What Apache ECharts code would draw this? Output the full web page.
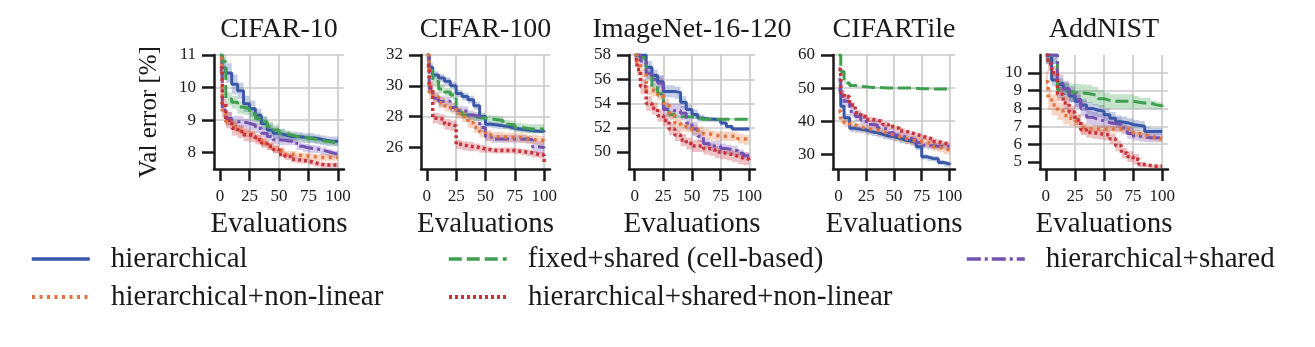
<!DOCTYPE html>
<html><head><meta charset="utf-8">
<script src="https://cdn.jsdelivr.net/npm/echarts@6/dist/echarts.min.js"></script>
<style>html,body{margin:0;padding:0;background:#fff}#c{width:1315px;height:347px}</style>
</head><body><div id="c"></div>
<script>
// ---------- DATA ----------
const xs = [0,2,5,10,15,20,25,30,35,40,45,50,55,60,65,70,75,80,85,90,95,100];
const xTicks = [0,25,50,75,100];
const titles = ['CIFAR-10','CIFAR-100','ImageNet-16-120','CIFARTile','AddNIST'];
const seriesNames = ['hierarchical','fixed+shared (cell-based)','hierarchical+shared','hierarchical+non-linear','hierarchical+shared+non-linear'];

const c10_ticks = [8,9,10,11];
const c10_hier = [11.0,10.6,10.45,10.1,9.9,9.5,9.35,9.15,8.9,8.7,8.6,8.55,8.5,8.5,8.48,8.45,8.45,8.42,8.38,8.35,8.35,8.33];
const c10_hier_sd = [0.3,0.3,0.3,0.3,0.25,0.25,0.25,0.2,0.2,0.2,0.18,0.18,0.15,0.15,0.15,0.15,0.15,0.15,0.15,0.15,0.15,0.15];
const c10_fixed = [11.0,10.8,9.65,9.55,9.4,9.35,9.2,9.05,8.95,8.8,8.7,8.6,8.55,8.5,8.48,8.45,8.42,8.4,8.35,8.33,8.3,8.3];
const c10_fixed_sd = [0.2,0.2,0.2,0.2,0.2,0.2,0.2,0.2,0.18,0.15,0.15,0.12,0.12,0.1,0.1,0.1,0.1,0.1,0.08,0.08,0.08,0.08];
const c10_hs = [10.5,9.3,9.05,8.95,8.95,8.9,8.85,8.75,8.6,8.5,8.4,8.38,8.35,8.35,8.2,8.15,8.12,8.1,8.05,8.0,7.95,7.9];
const c10_hs_sd = [0.2,0.2,0.2,0.18,0.18,0.15,0.15,0.15,0.15,0.15,0.15,0.15,0.12,0.12,0.12,0.12,0.12,0.12,0.12,0.12,0.12,0.12];
const c10_hnl = [10.9,9.2,8.95,8.8,8.7,8.6,8.55,8.45,8.3,8.2,8.1,8.05,7.95,7.95,7.9,7.9,7.88,7.85,7.85,7.85,7.85,7.85];
const c10_hnl_sd = [0.15,0.15,0.12,0.12,0.12,0.12,0.12,0.12,0.12,0.12,0.12,0.12,0.1,0.1,0.1,0.1,0.1,0.1,0.1,0.1,0.1,0.1];
const c10_hsnl = [10.6,9.5,9.0,8.75,8.65,8.55,8.5,8.4,8.3,8.2,8.1,7.95,7.88,7.8,7.75,7.75,7.7,7.65,7.62,7.62,7.62,7.62];
const c10_hsnl_sd = [0.25,0.25,0.25,0.22,0.2,0.2,0.18,0.15,0.15,0.12,0.12,0.1,0.1,0.1,0.08,0.08,0.08,0.08,0.08,0.08,0.08,0.08];

const c100_ticks = [26,28,30,32];
const c100_hier = [32,31.2,30.7,30.5,30.3,30.0,29.5,29.3,29.1,28.7,28.0,27.5,27.45,27.4,27.35,27.25,27.2,27.15,27.1,27.05,27.05,27.0];
const c100_hier_sd = [0.3,0.3,0.25,0.25,0.25,0.25,0.25,0.25,0.25,0.25,0.25,0.2,0.2,0.2,0.15,0.15,0.15,0.15,0.15,0.12,0.12,0.12];
const c100_fixed = [32,31.0,30.3,29.8,29.6,29.4,28.3,28.1,28.0,27.95,27.9,27.85,27.8,27.75,27.5,27.45,27.3,27.25,27.2,27.2,27.2,27.2];
const c100_fixed_sd = [0.3,0.3,0.3,0.3,0.25,0.25,0.25,0.25,0.25,0.25,0.25,0.25,0.25,0.25,0.3,0.3,0.3,0.3,0.3,0.3,0.3,0.3];
const c100_hs = [32,29.8,29.2,29.0,29.0,28.6,28.4,28.35,28.1,28.0,27.3,26.7,26.55,26.55,26.55,26.55,26.55,26.55,26.5,26.05,26.0,25.95];
const c100_hs_sd = [0.4,0.4,0.35,0.35,0.3,0.3,0.3,0.3,0.3,0.3,0.3,0.3,0.25,0.25,0.25,0.25,0.25,0.25,0.25,0.4,0.4,0.4];
const c100_hnl = [32,29.5,29.3,28.9,28.7,28.55,28.2,28.0,27.6,27.3,27.0,26.8,26.7,26.7,26.65,26.65,26.65,26.6,26.5,26.5,26.45,26.4];
const c100_hnl_sd = [0.4,0.4,0.35,0.35,0.35,0.35,0.35,0.35,0.35,0.35,0.35,0.35,0.3,0.3,0.3,0.3,0.3,0.3,0.3,0.3,0.3,0.3];
const c100_hsnl = [31.3,29.9,27.9,27.8,27.5,27.4,26.2,26.1,26.05,26.0,25.9,25.85,25.8,25.8,25.8,25.8,25.75,25.7,25.65,25.55,25.5,24.9];
const c100_hsnl_sd = [0.4,0.4,0.35,0.35,0.35,0.35,0.3,0.3,0.3,0.25,0.25,0.2,0.2,0.2,0.2,0.2,0.2,0.2,0.2,0.2,0.2,0.2];

const img_ticks = [50,52,54,56,58];
const img_hier = [58,58,58,57.0,56.3,55.8,55.0,55.0,54.9,54.1,53.5,53.1,52.8,52.7,52.7,52.65,52.4,52.1,51.9,51.9,51.9,51.9];
const img_hier_sd = [0.3,0.3,0.4,0.5,0.5,0.5,0.5,0.5,0.5,0.5,0.4,0.4,0.3,0.2,0.2,0.2,0.2,0.15,0.15,0.15,0.15,0.15];
const img_fixed = [58,58,57.8,56.3,55.3,54.8,53.6,53.1,52.9,52.9,52.9,52.85,52.7,52.7,52.7,52.7,52.7,52.7,52.7,52.7,52.7,52.7];
const img_fixed_sd = [0.2,0.2,0.3,0.3,0.3,0.3,0.2,0.15,0.1,0.1,0.1,0.1,0.1,0.1,0.1,0.1,0.1,0.1,0.1,0.1,0.1,0.1];
const img_hs = [58,58,57.5,56.5,56.0,55.7,53.5,53.4,53.4,53.2,52.4,51.9,51.3,50.7,50.5,50.5,50.3,50.2,50.1,49.9,49.7,49.7];
const img_hs_sd = [0.4,0.4,0.5,0.5,0.5,0.6,0.6,0.6,0.6,0.6,0.6,0.6,0.5,0.4,0.4,0.4,0.4,0.4,0.4,0.3,0.3,0.3];
const img_hnl = [58,57.4,56.5,55.1,55.0,54.7,54.0,53.0,52.4,52.1,52.0,51.8,51.7,51.5,51.4,51.3,51.3,51.3,51.3,51.1,51.0,51.0];
const img_hnl_sd = [0.3,0.3,0.4,0.4,0.4,0.4,0.4,0.4,0.4,0.4,0.4,0.4,0.4,0.4,0.4,0.4,0.4,0.4,0.4,0.4,0.4,0.4];
const img_hsnl = [57.6,56.8,55.4,54.0,53.6,53.0,52.6,51.9,51.4,51.0,50.7,50.5,50.5,50.3,50.2,50.0,49.9,49.8,49.65,49.5,49.4,49.25];
const img_hsnl_sd = [0.5,0.5,0.6,0.6,0.5,0.5,0.5,0.5,0.5,0.5,0.5,0.5,0.5,0.5,0.5,0.5,0.5,0.5,0.5,0.5,0.5,0.5];

const tile_ticks = [30,40,50,60];
const tile_hier = [49.5,44.5,41.0,37.8,37.5,37.3,36.8,36.5,36.0,35.5,35.3,34.8,34.3,34.0,33.5,32.2,29.2,28.7,28.6,27.5,27.0,26.7];
const tile_hier_sd = [1.5,1.5,1.2,1.0,1.0,1.0,1.0,1.0,1.0,1.0,1.0,1.0,1.0,1.0,1.0,1.0,0.8,0.8,0.8,0.8,0.8,0.8];
const tile_fixed = [60,55,51.5,50.8,50.5,50.4,50.2,50.2,50.1,50.0,50.0,50.0,50.0,50.0,49.9,49.8,49.8,49.7,49.7,49.7,49.7,49.7];
const tile_fixed_sd = [0.3,0.3,0.3,0.2,0.2,0.2,0.2,0.2,0.2,0.2,0.2,0.2,0.2,0.2,0.2,0.2,0.2,0.2,0.2,0.2,0.2,0.2];
const tile_hs = [52.5,47.5,46.0,42.9,41.4,40.3,39.0,38.8,38.0,37.5,36.5,35.8,35.3,34.8,34.3,33.5,32.7,32.5,32.4,32.4,32.4,32.4];
const tile_hs_sd = [2,2,1.8,1.5,1.5,1.5,1.2,1.2,1.2,1.2,1.2,1.2,1.2,1.2,1.2,1.2,1.0,1.0,1.0,1.0,1.0,1.0];
const tile_hnl = [43,40.3,39.5,38.8,38.2,37.8,37.5,37.3,36.8,36.3,35.8,35.3,34.8,34.3,34.0,33.8,33.5,33.0,32.2,31.8,31.2,31.0];
const tile_hnl_sd = [1.2,1.2,1.2,1.2,1.2,1.2,1.2,1.2,1.2,1.2,1.2,1.2,1.2,1.2,1.2,1.2,1.2,1.2,1.2,1.2,1.2,1.2];
const tile_hsnl = [55.7,48.5,47.4,44.9,42.5,41.4,40.5,40.3,39.8,39.0,38.3,37.8,37.0,36.5,36.0,35.5,35.0,34.5,33.8,33.3,33.0,33.0];
const tile_hsnl_sd = [0.8,0.8,0.8,0.8,0.8,0.8,0.8,0.8,0.8,0.8,0.8,0.8,0.8,0.8,0.8,0.8,0.8,0.8,0.8,0.8,0.8,0.8];

const add_ticks = [5,6,7,8,9,10];
const add_hier = [11,11,9.6,9.35,9.1,8.7,8.4,8.2,8.0,7.9,7.85,7.65,7.45,7.25,7.2,7.1,7.05,7.0,6.7,6.7,6.7,6.7];
const add_hier_sd = [0.4,0.4,0.35,0.35,0.35,0.35,0.35,0.35,0.35,0.35,0.35,0.35,0.35,0.35,0.35,0.35,0.3,0.3,0.25,0.2,0.2,0.2];
const add_fixed = [11,11,11,9.05,8.95,8.9,8.87,8.85,8.8,8.7,8.55,8.45,8.4,8.4,8.4,8.4,8.35,8.3,8.3,8.2,8.15,8.1];
const add_fixed_sd = [0.5,0.5,0.5,0.5,0.5,0.5,0.5,0.5,0.5,0.5,0.5,0.45,0.4,0.4,0.4,0.4,0.35,0.3,0.3,0.25,0.2,0.2];
const add_hs = [11,11,11,9.4,9.1,8.8,8.5,8.0,7.5,7.4,7.3,7.2,7.15,7.1,6.9,6.6,6.45,6.4,6.35,6.35,6.35,6.35];
const add_hs_sd = [0.5,0.5,0.5,0.5,0.45,0.45,0.45,0.45,0.4,0.4,0.4,0.4,0.4,0.4,0.35,0.3,0.25,0.25,0.25,0.25,0.25,0.25];
const add_hnl = [9.5,8.5,8.2,7.85,7.6,7.45,7.3,6.9,6.85,6.85,6.85,6.85,6.85,6.85,6.85,6.8,6.6,6.5,6.45,6.35,6.3,6.3];
const add_hnl_sd = [0.6,0.6,0.6,0.5,0.5,0.45,0.4,0.3,0.25,0.2,0.2,0.2,0.2,0.2,0.2,0.2,0.2,0.2,0.2,0.15,0.15,0.15];
const add_hsnl = [11,10.5,10.0,8.8,8.3,7.8,7.35,6.8,6.65,6.6,6.55,6.5,6.3,5.9,5.5,5.3,5.15,4.85,4.8,4.75,4.75,4.75];
const add_hsnl_sd = [0.4,0.4,0.4,0.4,0.35,0.35,0.3,0.3,0.3,0.3,0.3,0.3,0.3,0.3,0.3,0.3,0.3,0.15,0.1,0.1,0.1,0.1];

// ---------- STYLE / LAYOUT ----------
const FONT = '"Liberation Serif","Times New Roman",serif';
const TXT = '#1a1a1a';
const colors = ['#3a58a8','#3f9e50','#7351b1','#e0743f','#c7333d'];
const dashes = ['solid',[13,5],[14,4,3,4],[3,4.5],[3,3]];
const widths = [3,3,3,3.5,3.5];

const panels = [
  {ymin:7.5, ymax:11, ticks:c10_ticks, left:214, width:130,
   mean:[c10_hier,c10_fixed,c10_hs,c10_hnl,c10_hsnl], sd:[c10_hier_sd,c10_fixed_sd,c10_hs_sd,c10_hnl_sd,c10_hsnl_sd]},
  {ymin:24.6, ymax:32, ticks:c100_ticks, left:421, width:129,
   mean:[c100_hier,c100_fixed,c100_hs,c100_hnl,c100_hsnl], sd:[c100_hier_sd,c100_fixed_sd,c100_hs_sd,c100_hnl_sd,c100_hsnl_sd]},
  {ymin:48.6, ymax:58, ticks:img_ticks, left:629, width:126,
   mean:[img_hier,img_fixed,img_hs,img_hnl,img_hsnl], sd:[img_hier_sd,img_fixed_sd,img_hs_sd,img_hnl_sd,img_hsnl_sd]},
  {ymin:25.5, ymax:60, ticks:tile_ticks, left:833, width:122,
   mean:[tile_hier,tile_fixed,tile_hs,tile_hnl,tile_hsnl], sd:[tile_hier_sd,tile_fixed_sd,tile_hs_sd,tile_hnl_sd,tile_hsnl_sd]},
  {ymin:4.6, ymax:11, ticks:add_ticks, left:1040, width:128,
   mean:[add_hier,add_fixed,add_hs,add_hnl,add_hsnl], sd:[add_hier_sd,add_fixed_sd,add_hs_sd,add_hnl_sd,add_hsnl_sd]}
];
const TOP = 55, H = 114;

function bandRenderer(m, s, color) {
  return function (params, api) {
    if (params.dataIndex !== 0) return null;
    const top = [], bot = [];
    for (let j = 0; j < xs.length; j++) {
      const x0 = xs[j], x1 = j < xs.length - 1 ? xs[j + 1] : xs[j];
      const hi = m[j] + s[j], lo = m[j] - s[j];
      top.push(api.coord([x0, hi]), api.coord([x1, hi]));
      bot.push(api.coord([x0, lo]), api.coord([x1, lo]));
    }
    return {type: 'polygon', shape: {points: top.concat(bot.reverse())},
            style: {fill: color, opacity: 0.3}, silent: true};
  };
}

const grid=[], xAxis=[], yAxis=[], series=[], graphic=[];
panels.forEach((p,i)=>{
  grid.push({left:p.left, top:TOP, width:p.width, height:H});
  const axLine = {show:true, onZero:false, lineStyle:{color:TXT, width:2.5}};
  const tickSty = {color:TXT, width:2.5};
  const split = {show:true, showMinLine:false, showMaxLine:true, lineStyle:{color:'#c8c8c8', width:1.6}};
  xAxis.push({type:'value', gridIndex:i, min:-5, max:105,
    name:'Evaluations', nameLocation:'middle', nameGap:41, nameMoveOverlap:false,
    nameTextStyle:{fontFamily:FONT, fontSize:29, color:TXT},
    axisLine:axLine, axisTick:{show:true, length:12, lineStyle:tickSty, customValues:xTicks},
    axisLabel:{customValues:xTicks, fontFamily:FONT, fontSize:17, color:TXT, margin:19},
    splitLine:split});
  const ya = {type:'value', gridIndex:i, min:p.ymin, max:p.ymax,
    axisLine:axLine, axisTick:{show:true, length:12, lineStyle:tickSty, customValues:p.ticks},
    axisLabel:{customValues:p.ticks, fontFamily:FONT, fontSize:17, color:TXT, margin:18},
    splitLine:split};
  if (i===0) Object.assign(ya, {name:'Val error [%]', nameLocation:'middle', nameGap:52, nameMoveOverlap:false,
    nameTextStyle:{fontFamily:FONT, fontSize:25, color:TXT}});
  yAxis.push(ya);
  graphic.push({type:'text', x:p.left + p.width/2, y:30, style:{text:titles[i], fontFamily:FONT, fontSize:28, fill:TXT, textAlign:'center', textVerticalAlign:'middle'}});
  p.mean.forEach((m,k)=>{
    const s = p.sd[k];
    series.push({type:'custom', name:seriesNames[k]+' band', xAxisIndex:i, yAxisIndex:i, clip:true, silent:true, z:1,
      encode:{x:0, y:[1,2]},
      data: xs.map((x,j)=>[x, m[j]-s[j], m[j]+s[j]]),
      renderItem: bandRenderer(m, s, colors[k])});
  });
  p.mean.forEach((m,k)=>{
    series.push({type:'line', name:seriesNames[k], xAxisIndex:i, yAxisIndex:i, step:'end',
      symbol:'none', showSymbol:false, z:3+k,
      itemStyle:{color:colors[k]},
      lineStyle:{color:colors[k], width:widths[k], type:dashes[k], cap:'butt'},
      data: xs.map((x,j)=>[x, m[j]])});
  });
});

const legendPos = [[30,259],[447,259],[965,259],[30,297],[447,297]];
const legend = seriesNames.map((n,k)=>({
  data:[n], left:legendPos[k][0], top:legendPos[k][1]-15, padding:0, orient:'horizontal',
  itemWidth:58, itemHeight:14, selectedMode:false,
  itemStyle:{color:'rgba(0,0,0,0)', borderColor:'rgba(0,0,0,0)', borderWidth:0, opacity:0},
  lineStyle:{width:widths[k]+0.5, color:colors[k], type:dashes[k], cap:'butt'},
  textStyle:{fontFamily:FONT, fontSize:29, color:TXT, padding:[0,0,0,16], lineHeight:30}
}));

const chart = echarts.init(document.getElementById('c'), null, {renderer:'canvas'});
chart.setOption({animation:false, backgroundColor:'#fff', grid, xAxis, yAxis, series, legend, graphic});
</script></body></html>
